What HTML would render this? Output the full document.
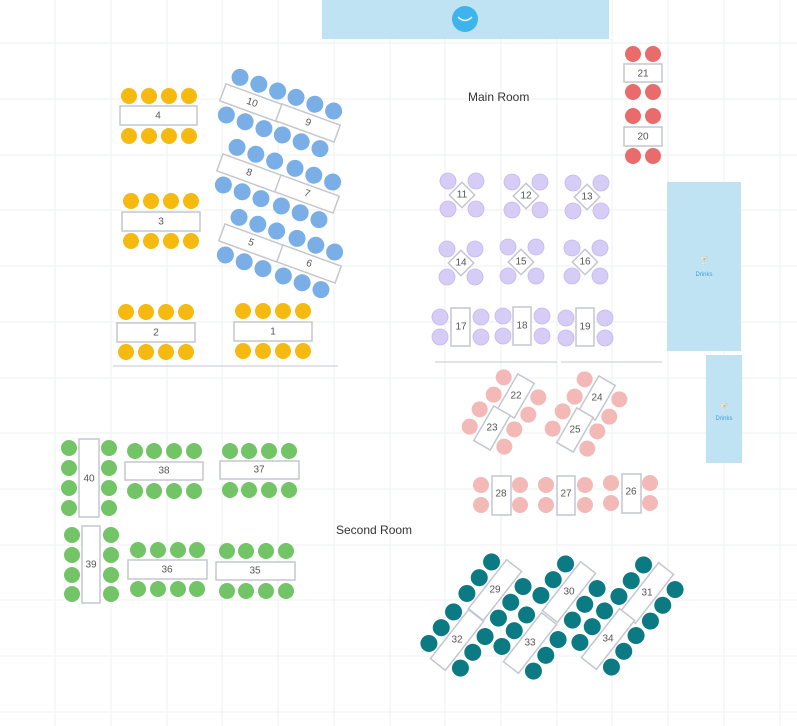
<!DOCTYPE html>
<html><head><meta charset="utf-8"><style>
html,body{margin:0;padding:0;background:#fff}
svg{display:block}
text{font-family:"Liberation Sans",sans-serif}
.t{fill:#fff;stroke:#c4c7cf;stroke-width:1.5}
.l{font-size:10px;fill:#555;text-anchor:middle;dominant-baseline:central}
.n{font-size:5px;fill:rgba(0,0,0,.35);text-anchor:middle;dominant-baseline:central}
.y{fill:#f6b90f}.b{fill:#7aaee6}.p{fill:#d6cdf7;stroke:#c5b8f0;stroke-width:.8}.r{fill:#ea6b6b}.k{fill:#f3b9b6}.g{fill:#72c466}.e{fill:#0c7a82}
</style></head><body>
<svg width="797" height="726" viewBox="0 0 797 726" xmlns="http://www.w3.org/2000/svg">
<g stroke="#eef0f2" stroke-width="1">
<line x1="55" y1="0" x2="55" y2="726"/><line x1="111" y1="0" x2="111" y2="726"/><line x1="167" y1="0" x2="167" y2="726"/><line x1="222" y1="0" x2="222" y2="726"/><line x1="278" y1="0" x2="278" y2="726"/><line x1="334" y1="0" x2="334" y2="726"/><line x1="390" y1="0" x2="390" y2="726"/><line x1="445" y1="0" x2="445" y2="726"/><line x1="501" y1="0" x2="501" y2="726"/><line x1="557" y1="0" x2="557" y2="726"/><line x1="612" y1="0" x2="612" y2="726"/><line x1="668" y1="0" x2="668" y2="726"/><line x1="724" y1="0" x2="724" y2="726"/><line x1="780" y1="0" x2="780" y2="726"/>
<line x1="0" y1="43" x2="797" y2="43"/><line x1="0" y1="99" x2="797" y2="99"/><line x1="0" y1="155" x2="797" y2="155"/><line x1="0" y1="210" x2="797" y2="210"/><line x1="0" y1="266" x2="797" y2="266"/><line x1="0" y1="322" x2="797" y2="322"/><line x1="0" y1="378" x2="797" y2="378"/><line x1="0" y1="433" x2="797" y2="433"/><line x1="0" y1="489" x2="797" y2="489"/><line x1="0" y1="545" x2="797" y2="545"/><line x1="0" y1="600" x2="797" y2="600"/><line x1="0" y1="656" x2="797" y2="656"/><line x1="0" y1="712" x2="797" y2="712"/>
</g>
<rect x="322" y="0" width="287" height="39" fill="#c0e3f3"/>
<circle cx="465" cy="19" r="13" fill="#3db5ec"/>
<path d="M458 17 Q465 24 472 17" stroke="#fff" stroke-width="1.5" fill="none"/>
<rect x="667" y="182" width="74" height="169" fill="#c0e3f3"/>
<rect x="706" y="355" width="36" height="108" fill="#c0e3f3"/>
<text x="704" y="263" font-size="8" fill="#3d9fd8" text-anchor="middle">🍸</text><text x="704" y="276" font-size="6" fill="#3d9fd8" text-anchor="middle">Drinks</text>
<text x="724" y="410" font-size="8" fill="#3d9fd8" text-anchor="middle">🍸</text><text x="724" y="420" font-size="6" fill="#3d9fd8" text-anchor="middle">Drinks</text>
<text x="468" y="101" font-size="12" fill="#333">Main Room</text>
<text x="336" y="534" font-size="12" fill="#333">Second Room</text>
<g stroke="#c4c7cf" stroke-width="1"><line x1="113" y1="366" x2="338" y2="366"/><line x1="435" y1="362" x2="557" y2="362"/><line x1="561" y1="362" x2="662" y2="362"/></g>

<!-- yellow -->
<g class="y">
<circle cx="129" cy="96" r="8"/><circle cx="149" cy="96" r="8"/><circle cx="169" cy="96" r="8"/><circle cx="189" cy="96" r="8"/>
<circle cx="129" cy="136" r="8"/><circle cx="149" cy="136" r="8"/><circle cx="169" cy="136" r="8"/><circle cx="189" cy="136" r="8"/>
<circle cx="131" cy="201" r="8"/><circle cx="151" cy="201" r="8"/><circle cx="171" cy="201" r="8"/><circle cx="191" cy="201" r="8"/>
<circle cx="131" cy="241" r="8"/><circle cx="151" cy="241" r="8"/><circle cx="171" cy="241" r="8"/><circle cx="191" cy="241" r="8"/>
<circle cx="126" cy="312" r="8"/><circle cx="146" cy="312" r="8"/><circle cx="166" cy="312" r="8"/><circle cx="186" cy="312" r="8"/>
<circle cx="126" cy="352" r="8"/><circle cx="146" cy="352" r="8"/><circle cx="166" cy="352" r="8"/><circle cx="186" cy="352" r="8"/>
<circle cx="243" cy="311" r="8"/><circle cx="263" cy="311" r="8"/><circle cx="283" cy="311" r="8"/><circle cx="303" cy="311" r="8"/>
<circle cx="243" cy="351" r="8"/><circle cx="263" cy="351" r="8"/><circle cx="283" cy="351" r="8"/><circle cx="303" cy="351" r="8"/>
</g>
<rect class="t" x="120" y="106" width="77" height="19"/><text class="l" x="158" y="116">4</text>
<rect class="t" x="122" y="212" width="78" height="19"/><text class="l" x="161" y="222">3</text>
<rect class="t" x="117" y="323" width="78" height="19"/><text class="l" x="156" y="333">2</text>
<rect class="t" x="234" y="322" width="78" height="19"/><text class="l" x="273" y="332">1</text>

<!-- blue -->
<g transform="translate(252,103) rotate(20)"><g class="b"><circle cx="-20" cy="-20" r="8.5"/><circle cx="0" cy="-20" r="8.5"/><circle cx="20" cy="-20" r="8.5"/><circle cx="-20" cy="20" r="8.5"/><circle cx="0" cy="20" r="8.5"/><circle cx="20" cy="20" r="8.5"/></g><rect class="t" x="-31" y="-9" width="62" height="18"/><text class="l" x="0" y="0">10</text></g>
<g transform="translate(308,123) rotate(20)"><g class="b"><circle cx="-20" cy="-20" r="8.5"/><circle cx="0" cy="-20" r="8.5"/><circle cx="20" cy="-20" r="8.5"/><circle cx="-20" cy="20" r="8.5"/><circle cx="0" cy="20" r="8.5"/><circle cx="20" cy="20" r="8.5"/></g><rect class="t" x="-31" y="-9" width="62" height="18"/><text class="l" x="0" y="0">9</text></g>
<g transform="translate(249,173) rotate(20)"><g class="b"><circle cx="-20" cy="-20" r="8.5"/><circle cx="0" cy="-20" r="8.5"/><circle cx="20" cy="-20" r="8.5"/><circle cx="-20" cy="20" r="8.5"/><circle cx="0" cy="20" r="8.5"/><circle cx="20" cy="20" r="8.5"/></g><rect class="t" x="-31" y="-9" width="62" height="18"/><text class="l" x="0" y="0">8</text></g>
<g transform="translate(307,194) rotate(20)"><g class="b"><circle cx="-20" cy="-20" r="8.5"/><circle cx="0" cy="-20" r="8.5"/><circle cx="20" cy="-20" r="8.5"/><circle cx="-20" cy="20" r="8.5"/><circle cx="0" cy="20" r="8.5"/><circle cx="20" cy="20" r="8.5"/></g><rect class="t" x="-31" y="-9" width="62" height="18"/><text class="l" x="0" y="0">7</text></g>
<g transform="translate(251,243) rotate(20)"><g class="b"><circle cx="-20" cy="-20" r="8.5"/><circle cx="0" cy="-20" r="8.5"/><circle cx="20" cy="-20" r="8.5"/><circle cx="-20" cy="20" r="8.5"/><circle cx="0" cy="20" r="8.5"/><circle cx="20" cy="20" r="8.5"/></g><rect class="t" x="-31" y="-9" width="62" height="18"/><text class="l" x="0" y="0">5</text></g>
<g transform="translate(309,264) rotate(20)"><g class="b"><circle cx="-20" cy="-20" r="8.5"/><circle cx="0" cy="-20" r="8.5"/><circle cx="20" cy="-20" r="8.5"/><circle cx="-20" cy="20" r="8.5"/><circle cx="0" cy="20" r="8.5"/><circle cx="20" cy="20" r="8.5"/></g><rect class="t" x="-31" y="-9" width="62" height="18"/><text class="l" x="0" y="0">6</text></g>

<!-- red -->
<g class="r"><circle cx="633" cy="54" r="8"/><circle cx="653" cy="54" r="8"/><circle cx="633" cy="92" r="8"/><circle cx="653" cy="92" r="8"/><circle cx="633" cy="116" r="8"/><circle cx="653" cy="116" r="8"/><circle cx="633" cy="156" r="8"/><circle cx="653" cy="156" r="8"/></g>
<rect class="t" x="624" y="64" width="38" height="18"/><text class="l" x="643" y="74">21</text>
<rect class="t" x="624" y="127" width="38" height="19"/><text class="l" x="643" y="137">20</text>

<!-- purple diamonds -->
<g class="p">
<circle cx="448" cy="181" r="8"/><circle cx="476" cy="181" r="8"/><circle cx="448" cy="209" r="8"/><circle cx="476" cy="209" r="8"/>
<circle cx="512" cy="182" r="8"/><circle cx="540" cy="182" r="8"/><circle cx="512" cy="210" r="8"/><circle cx="540" cy="210" r="8"/>
<circle cx="573" cy="183" r="8"/><circle cx="601" cy="183" r="8"/><circle cx="573" cy="211" r="8"/><circle cx="601" cy="211" r="8"/>
<circle cx="447" cy="249" r="8"/><circle cx="475" cy="249" r="8"/><circle cx="447" cy="277" r="8"/><circle cx="475" cy="277" r="8"/>
<circle cx="508" cy="247" r="8"/><circle cx="536" cy="247" r="8"/><circle cx="508" cy="276" r="8"/><circle cx="536" cy="276" r="8"/>
<circle cx="572" cy="248" r="8"/><circle cx="600" cy="248" r="8"/><circle cx="572" cy="276" r="8"/><circle cx="600" cy="276" r="8"/>
<circle cx="440" cy="317" r="8"/><circle cx="440" cy="337" r="8"/><circle cx="481" cy="317" r="8"/><circle cx="481" cy="337" r="8"/>
<circle cx="503" cy="316" r="8"/><circle cx="503" cy="336" r="8"/><circle cx="542" cy="316" r="8"/><circle cx="542" cy="336" r="8"/>
<circle cx="566" cy="318" r="8"/><circle cx="566" cy="338" r="8"/><circle cx="605" cy="318" r="8"/><circle cx="605" cy="338" r="8"/>
</g>
<g transform="translate(462,195) rotate(45)"><rect class="t" x="-9" y="-9" width="18" height="18"/></g><text class="l" x="462" y="195">11</text>
<g transform="translate(526,196) rotate(45)"><rect class="t" x="-9" y="-9" width="18" height="18"/></g><text class="l" x="526" y="196">12</text>
<g transform="translate(587,197) rotate(45)"><rect class="t" x="-9" y="-9" width="18" height="18"/></g><text class="l" x="587" y="197">13</text>
<g transform="translate(461,263) rotate(45)"><rect class="t" x="-9" y="-9" width="18" height="18"/></g><text class="l" x="461" y="263">14</text>
<g transform="translate(521,262) rotate(45)"><rect class="t" x="-9" y="-9" width="18" height="18"/></g><text class="l" x="521" y="262">15</text>
<g transform="translate(585,262) rotate(45)"><rect class="t" x="-9" y="-9" width="18" height="18"/></g><text class="l" x="585" y="262">16</text>
<rect class="t" x="451" y="308" width="19" height="38"/><text class="l" x="461" y="327">17</text>
<rect class="t" x="513" y="307" width="18" height="38"/><text class="l" x="522" y="326">18</text>
<rect class="t" x="576" y="308" width="18" height="38"/><text class="l" x="585" y="327">19</text>

<!-- pink rotated -->
<g transform="translate(516,396) rotate(30)"><g class="k"><circle cx="-20" cy="-10" r="8"/><circle cx="-20" cy="10" r="8"/><circle cx="20" cy="-10" r="8"/><circle cx="20" cy="10" r="8"/></g><rect class="t" x="-9.5" y="-20" width="19" height="40"/></g><text class="l" x="516" y="396">22</text>
<g transform="translate(492,428) rotate(30)"><g class="k"><circle cx="-20" cy="-10" r="8"/><circle cx="-20" cy="10" r="8"/><circle cx="20" cy="-10" r="8"/><circle cx="20" cy="10" r="8"/></g><rect class="t" x="-9.5" y="-20" width="19" height="40"/></g><text class="l" x="492" y="428">23</text>
<g transform="translate(597,398) rotate(30)"><g class="k"><circle cx="-20" cy="-10" r="8"/><circle cx="-20" cy="10" r="8"/><circle cx="20" cy="-10" r="8"/><circle cx="20" cy="10" r="8"/></g><rect class="t" x="-9.5" y="-20" width="19" height="40"/></g><text class="l" x="597" y="398">24</text>
<g transform="translate(575,430) rotate(30)"><g class="k"><circle cx="-20" cy="-10" r="8"/><circle cx="-20" cy="10" r="8"/><circle cx="20" cy="-10" r="8"/><circle cx="20" cy="10" r="8"/></g><rect class="t" x="-9.5" y="-20" width="19" height="40"/></g><text class="l" x="575" y="430">25</text>
<g class="k"><circle cx="481" cy="485" r="8"/><circle cx="481" cy="505" r="8"/><circle cx="520" cy="485" r="8"/><circle cx="520" cy="505" r="8"/>
<circle cx="546" cy="485" r="8"/><circle cx="546" cy="505" r="8"/><circle cx="585" cy="485" r="8"/><circle cx="585" cy="505" r="8"/>
<circle cx="611" cy="483" r="8"/><circle cx="611" cy="503" r="8"/><circle cx="650" cy="483" r="8"/><circle cx="650" cy="503" r="8"/></g>
<rect class="t" x="492" y="476" width="19" height="39"/><text class="l" x="501" y="494">28</text>
<rect class="t" x="557" y="476" width="18" height="39"/><text class="l" x="566" y="494">27</text>
<rect class="t" x="622" y="474" width="19" height="39"/><text class="l" x="631" y="492">26</text>

<!-- teal -->
<g transform="translate(495,590) rotate(38)"><g class="e"><circle cx="-20" cy="-20" r="8.5"/><circle cx="-20" cy="0" r="8.5"/><circle cx="-20" cy="20" r="8.5"/><circle cx="20" cy="-20" r="8.5"/><circle cx="20" cy="0" r="8.5"/><circle cx="20" cy="20" r="8.5"/></g><rect class="t" x="-9.5" y="-31" width="19" height="62"/></g><text class="l" x="495" y="590">29</text>
<g transform="translate(569,592) rotate(38)"><g class="e"><circle cx="-20" cy="-20" r="8.5"/><circle cx="-20" cy="0" r="8.5"/><circle cx="-20" cy="20" r="8.5"/><circle cx="20" cy="-20" r="8.5"/><circle cx="20" cy="0" r="8.5"/><circle cx="20" cy="20" r="8.5"/></g><rect class="t" x="-9.5" y="-31" width="19" height="62"/></g><text class="l" x="569" y="592">30</text>
<g transform="translate(647,593) rotate(38)"><g class="e"><circle cx="-20" cy="-20" r="8.5"/><circle cx="-20" cy="0" r="8.5"/><circle cx="-20" cy="20" r="8.5"/><circle cx="20" cy="-20" r="8.5"/><circle cx="20" cy="0" r="8.5"/><circle cx="20" cy="20" r="8.5"/></g><rect class="t" x="-9.5" y="-31" width="19" height="62"/></g><text class="l" x="647" y="593">31</text>
<g transform="translate(457,640) rotate(38)"><g class="e"><circle cx="-20" cy="-20" r="8.5"/><circle cx="-20" cy="0" r="8.5"/><circle cx="-20" cy="20" r="8.5"/><circle cx="20" cy="-20" r="8.5"/><circle cx="20" cy="0" r="8.5"/><circle cx="20" cy="20" r="8.5"/></g><rect class="t" x="-9.5" y="-31" width="19" height="62"/></g><text class="l" x="457" y="640">32</text>
<g transform="translate(530,643) rotate(38)"><g class="e"><circle cx="-20" cy="-20" r="8.5"/><circle cx="-20" cy="0" r="8.5"/><circle cx="-20" cy="20" r="8.5"/><circle cx="20" cy="-20" r="8.5"/><circle cx="20" cy="0" r="8.5"/><circle cx="20" cy="20" r="8.5"/></g><rect class="t" x="-9.5" y="-31" width="19" height="62"/></g><text class="l" x="530" y="643">33</text>
<g transform="translate(608,639) rotate(38)"><g class="e"><circle cx="-20" cy="-20" r="8.5"/><circle cx="-20" cy="0" r="8.5"/><circle cx="-20" cy="20" r="8.5"/><circle cx="20" cy="-20" r="8.5"/><circle cx="20" cy="0" r="8.5"/><circle cx="20" cy="20" r="8.5"/></g><rect class="t" x="-9.5" y="-31" width="19" height="62"/></g><text class="l" x="608" y="639">34</text>

<!-- green -->
<g class="g">
<circle cx="69" cy="448" r="8"/><circle cx="69" cy="468" r="8"/><circle cx="69" cy="488" r="8"/><circle cx="69" cy="508" r="8"/>
<circle cx="109" cy="448" r="8"/><circle cx="109" cy="468" r="8"/><circle cx="109" cy="488" r="8"/><circle cx="109" cy="508" r="8"/>
<circle cx="72" cy="535" r="8"/><circle cx="72" cy="555" r="8"/><circle cx="72" cy="575" r="8"/><circle cx="72" cy="594" r="8"/>
<circle cx="111" cy="535" r="8"/><circle cx="111" cy="555" r="8"/><circle cx="111" cy="575" r="8"/><circle cx="111" cy="594" r="8"/>
<circle cx="135" cy="451" r="8"/><circle cx="154" cy="451" r="8"/><circle cx="174" cy="451" r="8"/><circle cx="194" cy="451" r="8"/>
<circle cx="135" cy="491" r="8"/><circle cx="154" cy="491" r="8"/><circle cx="174" cy="491" r="8"/><circle cx="194" cy="491" r="8"/>
<circle cx="230" cy="451" r="8"/><circle cx="249" cy="451" r="8"/><circle cx="269" cy="451" r="8"/><circle cx="289" cy="451" r="8"/>
<circle cx="230" cy="490" r="8"/><circle cx="249" cy="490" r="8"/><circle cx="269" cy="490" r="8"/><circle cx="289" cy="490" r="8"/>
<circle cx="138" cy="550" r="8"/><circle cx="158" cy="550" r="8"/><circle cx="178" cy="550" r="8"/><circle cx="197" cy="550" r="8"/>
<circle cx="138" cy="589" r="8"/><circle cx="158" cy="589" r="8"/><circle cx="178" cy="589" r="8"/><circle cx="197" cy="589" r="8"/>
<circle cx="227" cy="551" r="8"/><circle cx="246" cy="551" r="8"/><circle cx="266" cy="551" r="8"/><circle cx="286" cy="551" r="8"/>
<circle cx="227" cy="591" r="8"/><circle cx="246" cy="591" r="8"/><circle cx="266" cy="591" r="8"/><circle cx="286" cy="591" r="8"/>
</g>
<rect class="t" x="79" y="439" width="20" height="78"/><text class="l" x="89" y="479">40</text>
<rect class="t" x="82" y="526" width="18" height="77"/><text class="l" x="91" y="565">39</text>
<rect class="t" x="125" y="462" width="78" height="18"/><text class="l" x="164" y="471">38</text>
<rect class="t" x="220" y="461" width="79" height="18"/><text class="l" x="259" y="470">37</text>
<rect class="t" x="128" y="560" width="79" height="19"/><text class="l" x="167" y="570">36</text>
<rect class="t" x="216" y="562" width="79" height="18"/><text class="l" x="255" y="571">35</text>
</svg>
</body></html>
